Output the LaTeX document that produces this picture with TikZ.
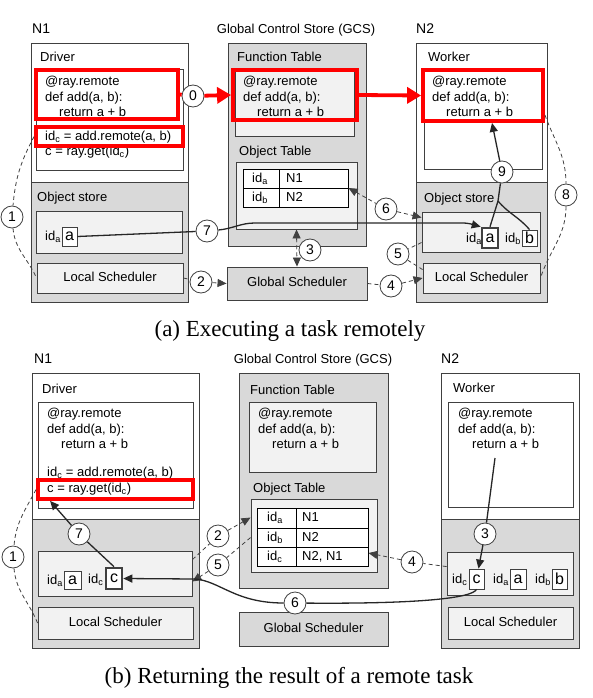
\documentclass[tikz,border=0pt]{standalone}
\usepackage{fontspec}
\setmainfont{Liberation Sans}
\newfontfamily\capfont{Liberation Serif}
\usetikzlibrary{arrows.meta,fit}

\definecolor{boxgray}{HTML}{D9D9D9}
\definecolor{boxlight}{HTML}{F2F2F2}
\definecolor{edge}{HTML}{404040}
\definecolor{hotred}{HTML}{FF0000}

\tikzset{
  frame/.style={draw=edge, line width=0.9pt, inner sep=0pt, fill=white},
  graybox/.style={frame, fill=boxgray},
  lightbox/.style={frame, fill=boxlight},
  redbox/.style={draw=hotred, line width=3.8pt, inner sep=0pt},
  objbox/.style={draw=edge, line width=0.8pt, fill=white, inner sep=0pt},
  hotbox/.style={objbox, line width=2.6pt},
  objtxt/.style={inner sep=0pt, font=\fontsize{16}{18}\selectfont},
  txt/.style={anchor=west, inner sep=0pt, text height=9pt, text depth=2.5pt, font=\fontsize{13}{15}\selectfont},
  ctxt/.style={txt, anchor=center},
  title/.style={txt, font=\fontsize{14}{16}\selectfont},
  numc/.style={circle, draw=edge, line width=0.8pt, fill=white, minimum size=22pt, inner sep=0pt, font=\fontsize{14}{16}\selectfont},
  msg/.style={draw=edge, line width=0.8pt, dash pattern=on 4pt off 3pt},
  data/.style={draw=black!85, line width=1.3pt},
  tip/.style={-{Triangle[length=9pt,width=8pt]}},
  caption/.style={inner sep=0pt, font=\capfont\fontsize{23}{27}\selectfont},
}

% three lines of the remote function
\newcommand{\raycode}[3]{%
  \node[txt] (#1l1) at (#2,#3) {@ray.remote};
  \node[txt] (#1l2) at (#2,#3+16) {def add(a, b):};
  \node[txt] (#1l3) at (#2+14,#3+31) {return a + b};
}
\newcommand{\idx}[1]{id\textsubscript{#1}}

\begin{document}
\begin{tikzpicture}[x=1pt, y=-1pt]
\useasboundingbox (0,0) rectangle (593,698);

%%%%%%%%%% (a) Executing a task remotely
% N1
\node[title] (nOneAlbl) at (32,30) {N1};
\node[frame, fit={(31,43) (188,302)}] (nOneA) {};
\node[graybox, fit={(31,182) (188,302)}] (nOneStoreA) {};
\node[txt] (drvAlbl) at (40,58) {Driver};
\node[frame, fit={(36,69) (183,170)}] (drvA) {};
\raycode{drvA}{45}{82}
\node[txt] (drvAl4) at (45,137) {\idx{c} = add.remote(a, b)};
\node[txt] (drvAl5) at (45,152) {c = ray.get(\idx{c})};
\node[redbox, fit={(36,70) (178,119)}] (funA) {};
\node[redbox, fit={(36,127) (183,146)}] (callA) {};
\node[txt] (osOneAlbl) at (37,198) {Object store};
\node[lightbox, fit={(36,211) (182,253)}] (osOneA) {};
\node[txt] (idaOneA) at (45,237) {\idx{a}};
\node[objbox, fit={(62,227) (77,246)}] (objaA) {};
\node[objtxt] (objaAtxt) at (objaA.center) {a};
\node[lightbox, fit={(37,263) (183,293)}] (lsOneA) {};
\node[ctxt] (lsOneAtxt) at (lsOneA.center) {Local Scheduler};

% GCS
\node[ctxt] (gcsAlbl) at (296,30) {Global Control Store (GCS)};
\node[graybox, fit={(228,43) (366,246)}] (gcsA) {};
\node[txt] (ftAlbl) at (237,58) {Function Table};
\node[lightbox, fit={(235,70) (354,136)}] (ftA) {};
\raycode{ftA}{243}{82}
\node[redbox, fit={(233,70) (357,120)}] (ftRedA) {};
\node[txt] (otAlbl) at (239,152) {Object Table};
\node[lightbox, fit={(236,162) (357,229)}] (otA) {};
\node[frame, line width=1pt, draw=black, fit={(243,169) (348,207)}] (tabA) {};
\draw[black, line width=1pt] (279,169) -- (279,207) (243,188) -- (348,188);
\node[txt] (tabAa) at (252,179) {\idx{a}};
\node[txt] (tabAan) at (286,179) {N1};
\node[txt] (tabAb) at (252,198) {\idx{b}};
\node[txt] (tabAbn) at (286,198) {N2};
\node[graybox, fit={(227,267) (367,300)}] (gsA) {};
\node[ctxt] (gsAtxt) at (gsA.center) {Global Scheduler};

% N2
\node[title] (nTwoAlbl) at (416,30) {N2};
\node[frame, fit={(416,43) (547,302)}] (nTwoA) {};
\node[graybox, fit={(416,182) (547,302)}] (nTwoStoreA) {};
\node[txt] (wrkAlbl) at (428,58) {Worker};
\node[frame, fit={(424,69) (542,169)}] (wrkA) {};
\raycode{wrkA}{432}{82}
\node[redbox, fit={(423,70) (543,121)}] (wrkRedA) {};
\node[txt] (osTwoAlbl) at (424,199) {Object store};
\node[lightbox, fit={(422,212) (540,252)}] (osTwoA) {};
\node[txt] (idaTwoA) at (466,239) {\idx{a}};
\node[hotbox, fit={(482,228) (498,248)}] (objaTwoA) {};
\node[objtxt] (objaTwoAtxt) at (objaTwoA.center) {a};
\node[txt] (idbTwoA) at (505,239) {\idx{b}};
\node[objbox, fit={(522,230) (537,246)}] (objbTwoA) {};
\node[objtxt] (objbTwoAtxt) at (objbTwoA.center) {b};
\node[lightbox, fit={(423,263) (540,293)}] (lsTwoA) {};
\node[ctxt] (lsTwoAtxt) at (lsTwoA.center) {Local Scheduler};

% steps
\node[numc] (c0a) at (193,96) {0};
\node[numc] (c1a) at (12,217) {1};
\node[numc] (c2a) at (201,282) {2};
\node[numc] (c3a) at (310,250) {3};
\node[numc] (c4a) at (391,286) {4};
\node[numc] (c5a) at (398,254) {5};
\node[numc] (c6a) at (386,209) {6};
\node[numc] (c7a) at (207,231) {7};
\node[numc] (c8a) at (566,195) {8};
\node[numc] (c9a) at (502,172) {9};

\draw[hotred, line width=3.8pt] (funA.east) -- (c0a);
\draw[hotred, line width=3.8pt, -{Triangle[length=14pt,width=16pt]}] (c0a) -- (ftRedA.west);
\draw[hotred, line width=3.8pt, -{Triangle[length=14pt,width=16pt]}] (ftRedA.east) -- (wrkRedA.west);
\draw[msg] (callA.west) to[out=-118,in=85] (c1a);
\draw[msg] (c1a) to[out=-85,in=114] (lsOneA.west);
\draw[msg, tip] (lsOneA.east) -- (c2a) -- (gsA.west);
\draw[msg, {Triangle[length=9pt,width=8pt]}-{Triangle[length=9pt,width=8pt]}] (otA.south) -- (gsA.north);
\draw[msg, tip] (gsA.east) -- (c4a) -- (lsTwoA.west);
\draw[msg] ([yshift=10pt]osTwoA.south west) -- (c5a) -- ([yshift=-7pt]lsTwoA.north west);
\draw[msg, {Triangle[length=9pt,width=8pt]}-] (tabA.east) -- (c6a);
\draw[msg, tip] (c6a) -- ([yshift=-6pt]osTwoA.north west);
\draw[data] (objaA.east) -- (c7a);
\draw[data, tip] (c7a) to[out=5,in=180] (255,223) -- (462,223) to[out=0,in=165] (objaTwoA.north west);
\draw[msg] ([yshift=8pt]wrkRedA.south east) to[out=-70,in=90] (c8a);
\draw[msg] (c8a) to[out=-90,in=72] (lsTwoA.east);
\coordinate (j9a) at (498,201);
\draw[data] (objaTwoA.north) -- (j9a) -- (c9a);
\draw[data] (objbTwoA.north) to[out=130,in=-50] (j9a);
\draw[data, tip] (c9a) -- ([xshift=9pt]wrkRedA.south);

\node[caption] (capA) at (290,331) {(a) Executing a task remotely};

%%%%%%%%%% (b) Returning the result of a remote task
% N1
\node[title] (nOneBlbl) at (34,360) {N1};
\node[frame, fit={(32,373) (199,648)}] (nOneB) {};
\node[graybox, fit={(32,519) (199,648)}] (nOneStoreB) {};
\node[txt] (drvBlbl) at (42,390) {Driver};
\node[frame, fit={(38,402) (193,508)}] (drvB) {};
\raycode{drvB}{47}{414}
\node[txt] (drvBl4) at (47,473) {\idx{c} = add.remote(a, b)};
\node[txt] (drvBl5) at (47,489) {c = ray.get(\idx{c})};
\node[redbox, fit={(38,480) (193,499)}] (getB) {};
\node[lightbox, fit={(38,551) (192,596)}] (osOneB) {};
\node[txt] (idaOneB) at (47,581) {\idx{a}};
\node[objbox, fit={(64,571) (81,589)}] (objaB) {};
\node[objtxt] (objaBtxt) at (objaB.center) {a};
\node[txt] (idcOneB) at (88,580) {\idx{c}};
\node[hotbox, fit={(106,568) (122,589)}] (objcB) {};
\node[objtxt] (objcBtxt) at (objcB.center) {c};
\node[lightbox, fit={(38,607) (193,639)}] (lsOneB) {};
\node[ctxt] (lsOneBtxt) at (lsOneB.center) {Local Scheduler};

% GCS
\node[ctxt] (gcsBlbl) at (313,360) {Global Control Store (GCS)};
\node[graybox, fit={(239,373) (388,588)}] (gcsB) {};
\node[txt] (ftBlbl) at (250,391) {Function Table};
\node[lightbox, fit={(249,402) (376,472)}] (ftB) {};
\raycode{ftB}{258}{414}
\node[txt] (otBlbl) at (253,489) {Object Table};
\node[lightbox, fit={(251,499) (377,572)}] (otB) {};
\node[frame, line width=1pt, draw=black, fit={(257,508) (368,566)}] (tabB) {};
\draw[black, line width=1pt] (296,508) -- (296,566) (257,528) -- (368,528) (257,547) -- (368,547);
\node[txt] (tabBa) at (267,518) {\idx{a}};
\node[txt] (tabBan) at (302,518) {N1};
\node[txt] (tabBb) at (267,538) {\idx{b}};
\node[txt] (tabBbn) at (302,538) {N2};
\node[txt] (tabBc) at (267,557) {\idx{c}};
\node[txt] (tabBcn) at (302,557) {N2, N1};
\node[graybox, fit={(239,612) (388,646)}] (gsB) {};
\node[ctxt] (gsBtxt) at (gsB.center) {Global Scheduler};

% N2
\node[title] (nTwoBlbl) at (441,360) {N2};
\node[frame, fit={(441,373) (579,648)}] (nTwoB) {};
\node[graybox, fit={(441,519) (579,648)}] (nTwoStoreB) {};
\node[txt] (wrkBlbl) at (453,389) {Worker};
\node[frame, fit={(448,402) (573,507)}] (wrkB) {};
\raycode{wrkB}{458}{414}
\node[lightbox, fit={(447,552) (573,595)}] (osTwoB) {};
\node[txt] (idcTwoB) at (452,580) {\idx{c}};
\node[objbox, fit={(469,569) (484,589)}] (objcTwoB) {};
\node[objtxt] (objcTwoBtxt) at (objcTwoB.center) {c};
\node[txt] (idaTwoB) at (493,580) {\idx{a}};
\node[objbox, fit={(510,569) (526,589)}] (objaTwoB) {};
\node[objtxt] (objaTwoBtxt) at (objaTwoB.center) {a};
\node[txt] (idbTwoB) at (535,580) {\idx{b}};
\node[objbox, fit={(552,569) (567,589)}] (objbTwoB) {};
\node[objtxt] (objbTwoBtxt) at (objbTwoB.center) {b};
\node[lightbox, fit={(448,607) (573,639)}] (lsTwoB) {};
\node[ctxt] (lsTwoBtxt) at (lsTwoB.center) {Local Scheduler};

% steps
\node[numc] (c1b) at (13,557) {1};
\node[numc] (c2b) at (218,536) {2};
\node[numc] (c3b) at (485,534) {3};
\node[numc] (c4b) at (412,562) {4};
\node[numc] (c5b) at (218,565) {5};
\node[numc] (c6b) at (295,603) {6};
\node[numc] (c7b) at (79,534) {7};

\draw[msg] (getB.west) to[out=-118,in=85] (c1b);
\draw[msg] (c1b) to[out=-85,in=112] (lsOneB.west);
\draw[msg, tip] ([yshift=-9pt]osOneB.north east) -- (c2b) -- ([yshift=-19pt]otB.north west);
\draw[msg, tip] ([yshift=-39pt]otB.north west) -- (c5b) -- ([yshift=15pt]osOneB.south east);
\coordinate (retB) at (495,458);
\draw[data] (retB) -- (c3b);
\draw[data, tip] (c3b) -- ([xshift=2pt]objcTwoB.north);
\draw[msg, tip] ([yshift=-15pt]osTwoB.north west) -- (c4b) -- ([yshift=-16pt]tabB.east);
\draw[data] (objcTwoB.south) .. controls (472,598) and (420,604) .. (c6b);
\draw[data, tip] (c6b) .. controls (235,603) and (220,581) .. (195,579) -- (objcB.east);
\draw[data] (objcB.north) -- (c7b);
\draw[data, tip] (c7b) -- ([xshift=14pt]getB.south west);

\node[caption] (capB) at (289,678) {(b) Returning the result of a remote task};
\end{tikzpicture}
\end{document}
